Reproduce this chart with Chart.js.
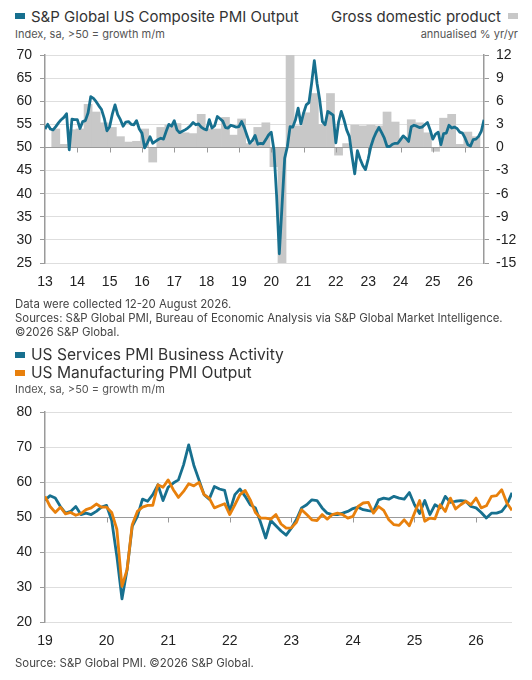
<!DOCTYPE html>
<html>
<head>
<meta charset="utf-8">
<script src="https://cdn.jsdelivr.net/npm/chart.js@4.4.1/dist/chart.umd.min.js"></script>
<style>
  body { margin: 0; background: #fff; }
  #page { position: relative; width: 532px; height: 680px; overflow: hidden; font-family: Inter, "Noto Sans", sans-serif; color: #333; }
  .t { position: absolute; white-space: nowrap; line-height: 1.2; }
  .big { font-size: 15px; color: #333; }
  .small { font-size: 11px; color: #555; }
  .note { font-size: 11.4px; color: #444; }
  .sq { position: absolute; width: 10px; height: 6px; }
  canvas { position: absolute; left: 0; }
</style>
</head>
<body>
<div id="page">
  <div class="sq" style="left:15px; top:13px; background:#17708f"></div>
  <div class="t big" style="left:31px; top:8px">S&amp;P Global US Composite PMI Output</div>
  <div class="t small" style="left:15px; top:28px">Index, sa, &gt;50 = growth m/m</div>
  <div class="t big" style="right:31px; top:8px">Gross domestic product</div>
  <div class="sq" style="left:508px; top:13px; background:#c8c8c8"></div>
  <div class="t small" style="right:14px; top:28px">annualised % yr/yr</div>

  <canvas id="top" style="top:0px"></canvas>

  <div class="t note" style="left:15px; top:298px">Data were collected 12-20 August 2026.</div>
  <div class="t note" style="left:15px; top:312px">Sources: S&amp;P Global PMI, Bureau of Economic Analysis via S&amp;P Global Market Intelligence.</div>
  <div class="t note" style="left:15px; top:326px">©2026 S&amp;P Global.</div>

  <div class="sq" style="left:15px; top:352px; background:#17708f"></div>
  <div class="t big" style="left:31px; top:346px; font-size:15.6px">US Services PMI Business Activity</div>
  <div class="sq" style="left:15px; top:370px; background:#e8800c"></div>
  <div class="t big" style="left:31px; top:364px; font-size:15.6px">US Manufacturing PMI Output</div>
  <div class="t small" style="left:15px; top:383px">Index, sa, &gt;50 = growth m/m</div>

  <canvas id="bottom" style="top:360px"></canvas>

  <div class="t note" style="left:15px; top:657px">Source: S&amp;P Global PMI. ©2026 S&amp;P Global.</div>
</div>
<script>
// ---- top chart: composite PMI (monthly from Jan 2013) and GDP (quarterly from Q1 2013)
var compositeStart = 2013;
var composite = [
  54.0, 55.0, 54.0, 53.8, 54.5, 55.3, 56.0, 56.5, 57.3, 49.5, 56.1, 56.0,
  56.0, 54.1, 55.6, 55.8, 57.5, 61.0, 60.6, 59.9, 59.0, 58.2, 56.3, 53.6,
  54.5, 57.2, 59.2, 57.1, 56.0, 54.6, 55.5, 55.6, 55.0, 54.9, 55.8, 54.0,
  53.1, 49.9, 51.0, 52.3, 50.9, 51.3, 51.7, 52.0, 51.8, 53.5, 55.0, 54.6,
  55.8, 53.8, 53.2, 53.5, 53.8, 54.2, 54.7, 55.4, 54.9, 55.1, 54.4, 54.0,
  53.8, 56.0, 54.2, 54.7, 56.7, 56.2, 55.7, 54.3, 54.2, 54.8, 54.6, 54.4,
  54.5, 55.6, 54.3, 52.6, 50.9, 51.5, 52.6, 50.7, 50.9, 50.8, 51.7, 52.7,
  53.3, 49.5, 39.5, 27.0, 37.3, 47.7, 50.2, 54.5, 54.4, 56.0, 58.5, 55.1,
  57.4, 59.2, 59.7, 63.9, 68.8, 63.9, 60.3, 55.6, 54.9, 57.8, 57.4, 57.0,
  51.0, 55.5, 57.8, 56.0, 53.8, 52.4, 48.1, 44.3, 49.3, 47.5, 46.1, 45.2,
  47.5, 50.2, 52.0, 53.3, 54.3, 53.2, 52.0, 50.2, 50.2, 50.7, 50.9, 50.9,
  51.7, 52.5, 52.0, 51.3, 54.5, 54.8, 54.6, 54.3, 54.4, 54.9, 55.4, 53.8,
  51.8, 52.9, 53.3, 50.6, 53.0, 53.1, 54.8, 54.2, 54.4, 54.1, 53.3, 53.1,
  52.0, 50.6, 50.3, 51.7, 51.8, 52.4, 53.5, 56.0
];
var gdp = [
  null, 2.4, 0.4, 2.3,
  2.4, 5.6, 4.6, 3.2,
  2.6, 1.4, 0.7, 0.8,
  2.4, -1.9, 2.6, 2.9,
  3.1, 1.9, 1.8, 4.3,
  2.4, 2.4, 3.9, 1.6,
  3.7, 0.5, 2.6, 3.2,
  -2.5, -28.0, 33.8, 2.8,
  4.5, 7.0, 3.0, 7.0,
  -1.0, 0.5, 2.9, 2.8,
  2.9, 2.8, 4.6, 3.3,
  1.2, 3.6, 3.2, 1.9,
  -0.5, 3.8, 4.3, 0.4,
  2.0, 1.4
];
var topYears = [2013, 2014, 2015, 2016, 2017, 2018, 2019, 2020, 2021, 2022, 2023, 2024, 2025, 2026];
var topYearLabels = ['13', '14', '15', '16', '17', '18', '19', '20', '21', '22', '23', '24', '25', '26'];

// ---- bottom chart: services and manufacturing (monthly from Jan 2019)
var sectorStart = 2019;
var services = [
  54.8, 56.1, 55.4, 53.0, 51.1, 51.6, 53.0, 50.7, 51.1, 50.7, 51.6, 52.8,
  53.3, 49.0, 38.8, 26.6, 35.0, 47.3, 50.2, 55.1, 54.5, 56.4, 59.2, 54.7,
  58.5, 59.7, 60.6, 64.9, 70.6, 64.8, 60.6, 56.4, 55.1, 58.7, 58.0, 57.6,
  51.6, 56.4, 58.0, 55.9, 53.5, 52.6, 48.5, 44.0, 49.0, 47.5, 46.0, 44.8,
  46.8, 49.3, 52.6, 53.5, 54.9, 54.7, 52.6, 51.1, 50.7, 50.7, 51.1, 51.6,
  52.4, 52.8, 52.1, 51.8, 51.6, 54.9, 55.4, 55.1, 55.9, 55.4, 55.1, 57.0,
  53.5, 51.0, 54.7, 50.7, 53.5, 52.6, 55.9, 54.2, 54.5, 54.7, 54.5, 53.0,
  52.6, 51.3, 49.7, 51.1, 51.1, 51.6, 53.5, 56.9
];
var manufacturing = [
  55.9, 53.0, 51.3, 52.8, 50.9, 51.3, 50.5, 51.0, 52.1, 52.6, 53.7, 52.8,
  52.8, 51.3, 46.5, 30.2, 35.0, 47.8, 51.6, 52.8, 53.3, 53.3, 59.2, 58.5,
  60.6, 57.8, 55.6, 57.3, 59.5, 58.9, 59.9, 56.4, 55.4, 52.6, 53.2, 53.8,
  50.7, 53.5, 56.4, 57.6, 54.9, 51.3, 49.7, 49.7, 49.4, 50.7, 48.0, 46.8,
  46.9, 48.5, 52.1, 50.7, 49.2, 49.0, 50.7, 49.4, 50.7, 51.1, 50.7, 49.7,
  50.2, 53.0, 54.0, 54.2, 51.1, 53.0, 51.9, 49.2, 47.8, 47.6, 49.2, 47.5,
  51.1, 54.7, 48.8, 49.7, 49.5, 53.5, 51.6, 55.4, 52.3, 53.5, 54.5, 53.5,
  55.4, 52.6, 53.2, 55.9, 56.1, 57.8, 54.0, 51.9
];
var bottomYears = [2019, 2020, 2021, 2022, 2023, 2024, 2025, 2026];
var bottomYearLabels = ['19', '20', '21', '22', '23', '24', '25', '26'];

var teal = '#17708f';
var orange = '#e8800c';
var barGrey = '#c8c8c8';
var gridGrey = '#dedede';
var axisGrey = '#9a9a9a';
var tickFont = { family: 'Liberation Sans', size: 14 };

// month i of a series -> decimal year on the x scale
function monthly(start, values) {
  return values.map(function (v, i) { return { x: start + i / 12, y: v }; });
}
// quarter k -> centred on its middle month
function quarterly(start, values) {
  return values.map(function (v, k) { return { x: start + (3 * k + 1) / 12, y: v }; });
}

// the 50 line with short year ticks hanging below it, drawn under the PMI lines
var fiftyLine = {
  id: 'fiftyLine',
  beforeDatasetsDraw: function (chart) { chart.$fiftyDone = false; },
  beforeDatasetDraw: function (chart, args) {
    if (chart.$fiftyDone || args.meta.type !== 'line') return;
    chart.$fiftyDone = true;
    var ctx = chart.ctx, a = chart.chartArea, xs = chart.scales.x;
    var y0 = Math.round(chart.scales.y.getPixelForValue(50)) + 0.5;
    ctx.save();
    ctx.strokeStyle = axisGrey;
    ctx.lineWidth = 1;
    ctx.beginPath();
    ctx.moveTo(a.left, y0);
    ctx.lineTo(a.right, y0);
    xs.ticks.forEach(function (t) {
      var px = Math.round(xs.getPixelForValue(t.value)) + 0.5;
      if (px <= a.left + 1) return;
      ctx.moveTo(px, y0);
      ctx.lineTo(px, y0 + 5);
    });
    ctx.stroke();
    ctx.restore();
  }
};

function yearAxis(min, max, years, labels, height) {
  return {
    type: 'linear',
    min: min,
    max: max,
    offset: false,
    grid: { display: false, drawTicks: false },
    border: { display: false },
    afterBuildTicks: function (s) { s.ticks = years.map(function (v) { return { value: v }; }); },
    afterFit: function (s) { s.height = height; },
    ticks: {
      autoSkip: false,
      maxRotation: 0,
      padding: 11,
      color: '#222',
      font: tickFont,
      callback: function (v) { return labels[years.indexOf(v)]; }
    }
  };
}

function valueAxis(pos, min, max, step, width, onArea) {
  return {
    type: 'linear',
    position: pos,
    min: min,
    max: max,
    afterFit: function (s) { s.width = width; },
    grid: { color: gridGrey, tickColor: axisGrey, tickLength: 5, drawOnChartArea: onArea, lineWidth: 1 },
    border: { display: true, color: axisGrey, width: 1.5 },
    ticks: { stepSize: step, padding: pos === 'left' ? 8 : 7, color: '#222', font: tickFont }
  };
}

function sizeCanvas(id, h) {
  var c = document.getElementById(id);
  c.style.width = '532px';
  c.style.height = h + 'px';
  c.width = 532;
  c.height = h;
  return c;
}

new Chart(sizeCanvas('top', 300), {
  type: 'line',
  data: {
    datasets: [
      {
        type: 'line',
        label: 'S&P Global US Composite PMI Output',
        data: monthly(compositeStart, composite),
        yAxisID: 'y',
        borderColor: teal,
        borderWidth: 2.8,
        pointRadius: 0,
        tension: 0,
        borderJoinStyle: 'round',
        order: 0
      },
      {
        type: 'bar',
        label: 'Gross domestic product',
        data: quarterly(compositeStart, gdp),
        yAxisID: 'y2',
        backgroundColor: barGrey,
        barPercentage: 1,
        categoryPercentage: 1,
        order: 1
      }
    ]
  },
  options: {
    responsive: false,
    animation: false,
    layout: { padding: { top: 55, left: 0, right: 0, bottom: 0 } },
    plugins: { legend: { display: false }, tooltip: { enabled: false } },
    scales: {
      x: yearAxis(compositeStart, compositeStart + (composite.length - 1) / 12, topYears, topYearLabels, 37),
      y: valueAxis('left', 25, 70, 5, 45, true),
      y2: valueAxis('right', -15, 12, 3, 48, false)
    }
  },
  plugins: [fiftyLine]
});

new Chart(sizeCanvas('bottom', 300), {
  type: 'line',
  data: {
    datasets: [
      {
        label: 'US Services PMI Business Activity',
        data: monthly(sectorStart, services),
        borderColor: teal,
        borderWidth: 2.8,
        pointRadius: 0,
        tension: 0,
        borderJoinStyle: 'round',
        order: 1
      },
      {
        label: 'US Manufacturing PMI Output',
        data: monthly(sectorStart, manufacturing),
        borderColor: orange,
        borderWidth: 2.8,
        pointRadius: 0,
        tension: 0,
        borderJoinStyle: 'round',
        order: 0
      }
    ]
  },
  options: {
    responsive: false,
    animation: false,
    layout: { padding: { top: 52, left: 0, right: 20, bottom: 0 } },
    plugins: { legend: { display: false }, tooltip: { enabled: false } },
    scales: {
      x: yearAxis(sectorStart, sectorStart + (services.length - 1) / 12, bottomYears, bottomYearLabels, 38),
      y: valueAxis('left', 20, 80, 10, 45, true)
    }
  },
  plugins: [fiftyLine]
});
</script>
</body>
</html>
